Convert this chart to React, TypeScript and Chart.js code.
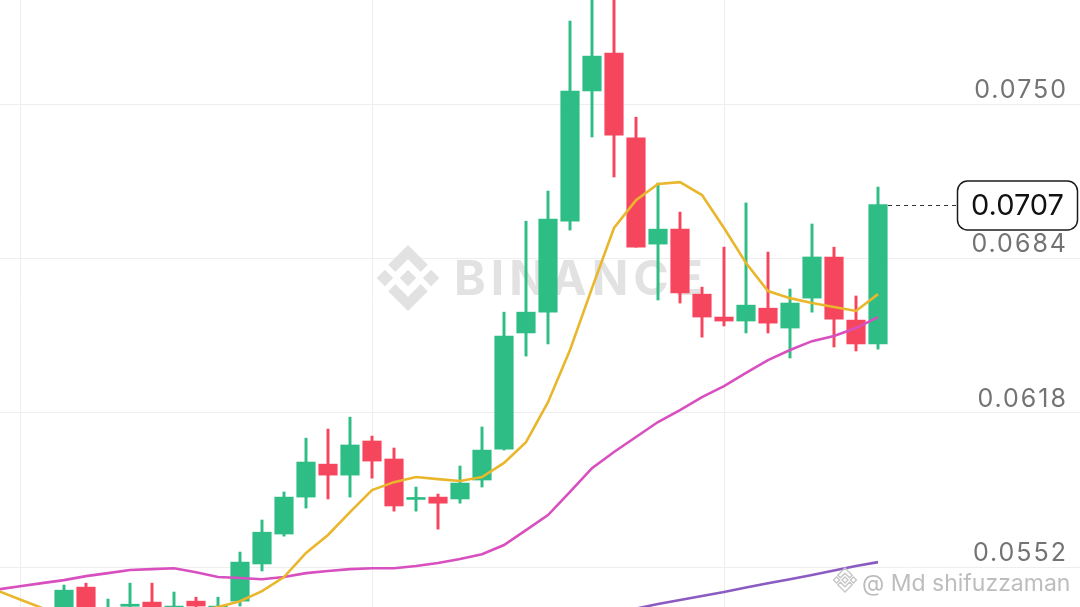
import React, { useEffect, useRef } from "react";
import { Chart, registerables } from "chart.js";

Chart.register(...registerables);

// ---------- data ----------
const FIRST_CANDLE = 0;
const opens = [
  0.0533, 0.05434, 0.0532, 0.05352, 0.0537, 0.0533, 0.05374, 0.0534, 0.05374, 0.05533,
  0.05661, 0.05819, 0.0596, 0.05913, 0.06059, 0.05982, 0.05809, 0.05819, 0.05811, 0.05892,
  0.06024, 0.06521, 0.0661, 0.06999, 0.07556, 0.07718, 0.07355, 0.06901, 0.06965, 0.06687,
  0.06589, 0.06572, 0.06627, 0.06542, 0.0667, 0.06846, 0.06576, 0.06474,
];
const highs = [
  0.05443, 0.05451, 0.05383, 0.05451, 0.05451, 0.05413, 0.05391, 0.05391, 0.05584, 0.05721,
  0.05841, 0.06071, 0.0611, 0.06161, 0.0608, 0.06029, 0.05862, 0.05832, 0.05952, 0.06119,
  0.0661, 0.06999, 0.07128, 0.07855, 0.08, 0.0802, 0.07444, 0.07162, 0.07038, 0.06717,
  0.06888, 0.07077, 0.06867, 0.06709, 0.06987, 0.06888, 0.06679, 0.07145,
];
const lows = [
  0.053, 0.0532, 0.0529, 0.053, 0.053, 0.0531, 0.0533, 0.0532, 0.05353, 0.05503,
  0.05652, 0.05772, 0.05811, 0.05819, 0.059, 0.05759, 0.05759, 0.05682, 0.05793, 0.05862,
  0.0602, 0.06422, 0.06474, 0.06961, 0.07359, 0.07188, 0.06888, 0.06662, 0.06649, 0.06503,
  0.06551, 0.06521, 0.06521, 0.06414, 0.0661, 0.06461, 0.06444, 0.06452,
];
const closes = [
  0.05421, 0.0534, 0.0534, 0.05361, 0.0533, 0.05353, 0.05353, 0.05353, 0.05541, 0.05669,
  0.05819, 0.05969, 0.05913, 0.06042, 0.05973, 0.05781, 0.05812, 0.05793, 0.05879, 0.0602,
  0.06508, 0.0661, 0.07008, 0.07556, 0.07705, 0.07367, 0.06888, 0.06965, 0.06692, 0.06589,
  0.06572, 0.0664, 0.06563, 0.06649, 0.06846, 0.0658, 0.06474, 0.0707,
];

const MA7_START = -3;
const ma7 = [
  0.05418, 0.05381, 0.05345, 0.0532, 0.0531, 0.0531, 0.0531, 0.0532, 0.0532, 0.0533,
  0.05349, 0.05374, 0.05417, 0.05477, 0.0558, 0.05657, 0.05755, 0.05849, 0.05883, 0.05905,
  0.05896, 0.05888, 0.05905, 0.05965, 0.06054, 0.06225, 0.06448, 0.06713, 0.0697, 0.07089,
  0.07158, 0.07166, 0.07111, 0.0697, 0.0682, 0.067, 0.0667, 0.06649, 0.06632, 0.06615,
  0.06687,
];
const MA25_START = -3;
const ma25 = [
  0.05424, 0.05438, 0.05451, 0.05464, 0.05481, 0.05494, 0.05507, 0.05511, 0.05515, 0.05498,
  0.05477, 0.05473, 0.05468, 0.05477, 0.05494, 0.05503, 0.05511, 0.05515, 0.05515, 0.05524,
  0.05537, 0.05554, 0.05575, 0.05614, 0.05678, 0.05742, 0.05841, 0.05943, 0.06012, 0.06076,
  0.0614, 0.06191, 0.06247, 0.06294, 0.0635, 0.06405, 0.06448, 0.06486, 0.06508, 0.06542,
  0.06589,
];
const MA99_START = 25;
const ma99 = [
  0.05323, 0.05342, 0.05362, 0.05379, 0.05396, 0.05413, 0.05432, 0.05451, 0.05468, 0.05486,
  0.05505, 0.05524, 0.05541,
];

const yTicks = [0.0552, 0.0618, 0.0684, 0.075];
const xGridTicks = [-2, 14, 30];
const lastPriceLabel = "0.0707";
const watermarkText = "BINANCE";
const authorText = "@ Md shifuzzaman";

// view window
const X_MIN = -64 / 22;
const X_MAX = (1080 - 64) / 22;
const Y_MIN = 0.05349;
const Y_MAX = 0.07945;

// ---------- styles ----------
const GREEN = "#2ebd85";
const RED = "#f6465d";
const YELLOW = "#e9b62c";
const PINK = "#d84fbf";
const PURPLE = "#8a5cc2";
const GRID = "#eeeeee";

function logoPaths(): number[][][] {
  const c = 0.25;
  const s = 0.25;
  const o = 1;
  const inner = 0.57;
  const chevTop = [
    [0, -o],
    [0.6, -0.4],
    [(inner + 0.2) / 2, -(inner - 0.2) / 2],
    [0, -inner],
    [-(inner + 0.2) / 2, -(inner - 0.2) / 2],
    [-0.6, -0.4],
  ];
  const chevBot = chevTop.map(([x, y]) => [x, -y]);
  return [
    [[0, -c], [c, 0], [0, c], [-c, 0]],
    [[-0.7, -s], [-0.7 + s, 0], [-0.7, s], [-0.7 - s, 0]],
    [[0.7, -s], [0.7 + s, 0], [0.7, s], [0.7 - s, 0]],
    chevTop,
    chevBot,
  ];
}

function drawLogo(ctx: CanvasRenderingContext2D, cx: number, cy: number, r: number, stroke: boolean) {
  for (const poly of logoPaths()) {
    ctx.beginPath();
    poly.forEach(([x, y], i) => {
      const px = cx + x * r;
      const py = cy + y * r;
      if (i === 0) ctx.moveTo(px, py);
      else ctx.lineTo(px, py);
    });
    ctx.closePath();
    if (stroke) ctx.stroke();
    else ctx.fill();
  }
}

const overlayPlugin = {
  id: "overlay",
  beforeDatasetsDraw(chart: any) {
    const ctx: CanvasRenderingContext2D = chart.ctx;
    ctx.save();
    ctx.fillStyle = "#e2e2e2";
    drawLogo(ctx, 408, 278, 33, false);
    ctx.font = "bold 48px Inter";
    (ctx as any).letterSpacing = "5px";
    ctx.textAlign = "left";
    ctx.textBaseline = "alphabetic";
    ctx.fillText(watermarkText, 454, 295);
    (ctx as any).letterSpacing = "0px";
    ctx.restore();
  },
  afterDraw(chart: any) {
    const ctx: CanvasRenderingContext2D = chart.ctx;
    const ys = chart.scales.y;
    const xs = chart.scales.x;
    ctx.save();
    // y labels
    ctx.font = "25px Inter";
    (ctx as any).letterSpacing = "2px";
    ctx.fillStyle = "#737373";
    ctx.textAlign = "right";
    ctx.textBaseline = "alphabetic";
    yTicks.forEach((v) => {
      ctx.fillText(v.toFixed(4), 1068, ys.getPixelForValue(v) - 6);
    });
    (ctx as any).letterSpacing = "0px";

    // last price line + box
    const last = closes[closes.length - 1];
    const py = Math.round(ys.getPixelForValue(last)) + 0.5;
    const lx = xs.getPixelForValue(FIRST_CANDLE + closes.length - 1) + 10;
    const boxL = 957.5;
    const boxW = 120;
    const boxH = 49;
    ctx.strokeStyle = "#333";
    ctx.lineWidth = 1.2;
    ctx.setLineDash([4, 4]);
    ctx.beginPath();
    ctx.moveTo(lx, py);
    ctx.lineTo(boxL, py);
    ctx.stroke();
    ctx.setLineDash([]);
    ctx.beginPath();
    (ctx as any).roundRect(boxL, py - boxH / 2, boxW, boxH, 10);
    ctx.fillStyle = "#fff";
    ctx.fill();
    ctx.lineWidth = 1.5;
    ctx.strokeStyle = "#1c1c1c";
    ctx.stroke();
    ctx.fillStyle = "#111";
    ctx.font = "29px Inter";
    ctx.textAlign = "center";
    ctx.textBaseline = "middle";
    ctx.fillText(lastPriceLabel, boxL + boxW / 2, py + 1);

    // author watermark
    ctx.strokeStyle = "#c6c6c6";
    ctx.lineWidth = 1.4;
    drawLogo(ctx, 845, 580, 12, true);
    ctx.font = "23px Inter";
    ctx.textAlign = "left";
    ctx.textBaseline = "alphabetic";
    ctx.lineWidth = 3;
    ctx.strokeStyle = "rgba(255,255,255,0.9)";
    ctx.strokeText(authorText, 862, 591);
    ctx.fillStyle = "#bdbdbd";
    ctx.fillText(authorText, 862, 591);
    ctx.restore();
  },
};

export default function App() {
  const ref = useRef<HTMLCanvasElement>(null);

  useEffect(() => {
    const idx = opens.map((_, i) => FIRST_CANDLE + i);
    const colors = opens.map((o, i) => (closes[i] >= o ? GREEN : RED));
    const line = (arr: number[], start: number, color: string) => ({
      type: "line" as const,
      data: arr.map((v, i) => ({ x: start + i, y: v })),
      borderColor: color,
      borderWidth: 2.6,
      pointRadius: 0,
      tension: 0,
      order: 0,
    });
    const chart = new Chart(ref.current!, {
      type: "bar",
      data: {
        datasets: [
          line(ma7, MA7_START, YELLOW) as any,
          line(ma25, MA25_START, PINK) as any,
          line(ma99, MA99_START, PURPLE) as any,
          {
            type: "bar",
            data: idx.map((x, i) => ({ x, y: [lows[i], highs[i]] })) as any,
            backgroundColor: colors,
            barThickness: 2.3,
            grouped: false,
            order: 2,
          },
          {
            type: "bar",
            data: idx.map((x, i) => ({ x, y: [opens[i], closes[i]] })) as any,
            backgroundColor: colors,
            barThickness: 18.5,
            grouped: false,
            minBarLength: 2,
            order: 1,
          },
        ],
      },
      options: {
        animation: false,
        responsive: false,
        devicePixelRatio: 1,
        layout: { padding: 0 },
        plugins: { legend: { display: false }, tooltip: { enabled: false } },
        scales: {
          x: {
            type: "linear",
            min: X_MIN,
            max: X_MAX,
            offset: false,
            grid: { color: GRID, drawTicks: false, lineWidth: 1, offset: false },
            border: { display: false },
            ticks: { display: false },
            afterBuildTicks: (s: any) => {
              s.ticks = xGridTicks.map((v) => ({ value: v }));
            },
          },
          y: {
            type: "linear",
            min: Y_MIN,
            max: Y_MAX,
            grid: { color: GRID, drawTicks: false, lineWidth: 1 },
            border: { display: false },
            ticks: { display: false },
            afterBuildTicks: (s: any) => {
              s.ticks = yTicks.map((v) => ({ value: v }));
            },
          },
        },
      } as any,
      plugins: [overlayPlugin],
    });
    return () => chart.destroy();
  }, []);

  return (
    <div style={{ position: "fixed", left: 0, top: 0, width: 1080, height: 607, background: "#fff" }}>
      <canvas ref={ref} width={1080} height={607} style={{ display: "block", width: 1080, height: 607 }} />
    </div>
  );
}
